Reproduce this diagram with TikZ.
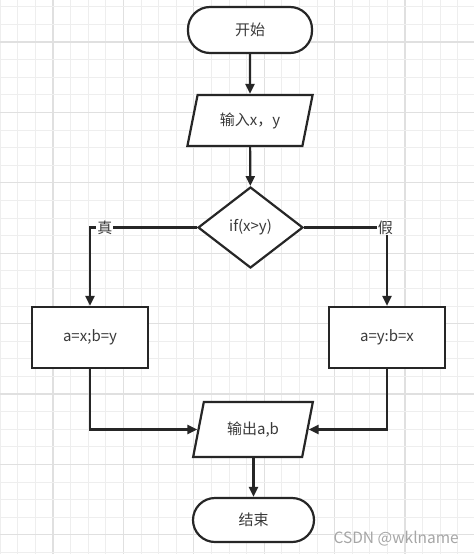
\documentclass[tikz,border=0pt]{standalone}
\usepackage{fontspec}
\newfontfamily\cjk{Noto Sans CJK SC}
\usetikzlibrary{shapes.geometric,arrows.meta}
\definecolor{ln}{HTML}{262626}
\definecolor{tx}{HTML}{3A3A3A}
\definecolor{gminor}{HTML}{EEEEEE}
\definecolor{gmajor}{HTML}{E0E0E0}
\begin{document}
\begin{tikzpicture}[x=1pt,y=-1pt,
 base/.style={draw=ln,line width=2.2pt,fill=white,text=tx,font=\cjk\fontsize{15}{17}\selectfont,inner sep=0pt},
 term/.style={base,rectangle,rounded corners=22pt,minimum width=124pt,minimum height=46pt},
 io/.style={base,trapezium,trapezium left angle=70,trapezium right angle=110,trapezium stretches=true},
 proc/.style={base,rectangle,minimum width=116pt,minimum height=61pt},
 dec/.style={base,diamond,minimum width=105pt,minimum height=81pt},
 arr/.style={draw=ln,line width=2.2pt,-{Triangle[length=10pt,width=9pt]}},
 lbl/.style={fill=white,text=tx,font=\cjk\fontsize{15}{17}\selectfont,inner sep=1pt}]
\useasboundingbox (0,0) rectangle (474,554);
\fill[white] (0,0) rectangle (474,554);
\begin{scope}
\clip (0,0) rectangle (474,554);
\foreach \k in {0,...,27} {
  \pgfmathsetmacro{\xx}{0.2+17.6*\k}
  \pgfmathtruncatemacro{\m}{mod(\k,4)}
  \ifnum\m=3 \draw[gmajor,line width=1.2pt] (\xx,0) -- (\xx,554);
  \else \draw[gminor,line width=1pt] (\xx,0) -- (\xx,554); \fi
}
\foreach \k in {0,...,32} {
  \pgfmathsetmacro{\yy}{6.8+17.6*\k}
  \pgfmathtruncatemacro{\m}{mod(\k,4)}
  \ifnum\m=2 \draw[gmajor,line width=1.2pt] (0,\yy) -- (474,\yy);
  \else \draw[gminor,line width=1pt] (0,\yy) -- (474,\yy); \fi
}
\end{scope}

\node[term] (start) at (250,30) {开始};
\node[io,minimum width=126pt,minimum height=51pt] (in) at (250,120.5) {输入x，y};
\node[dec] (if) at (250.5,227.5) {if(x>y)};
\node[proc] (L) at (90,337.5) {a=x;b=y};
\node[proc] (R) at (387,337.5) {a=y:b=x};
\node[io,minimum width=120pt,minimum height=55pt] (out) at (253,429.5) {输出a,b};
\node[term,minimum width=121pt,minimum height=44pt] (end) at (253.5,520) {结束};

\draw[arr] (start) -- (in);
\draw[arr] (in) -- (if);
\draw[arr] (if.west) -| node[lbl,pos=0.43] (t) {真} (L.north);
\draw[arr] (if.east) -| node[lbl,pos=0.49] (f) {假} (R.north);
\draw[arr] (L.south) |- (out.west);
\draw[arr] (R.south) |- (out.east);
\draw[arr] (out.south -| end.north) -- (end.north);

\node[anchor=base east,text=black!35,font=\cjk\fontsize{15.5}{17}\selectfont,inner sep=0pt] (wm) at (459,543) {CSDN @wklname};
\end{tikzpicture}
\end{document}
